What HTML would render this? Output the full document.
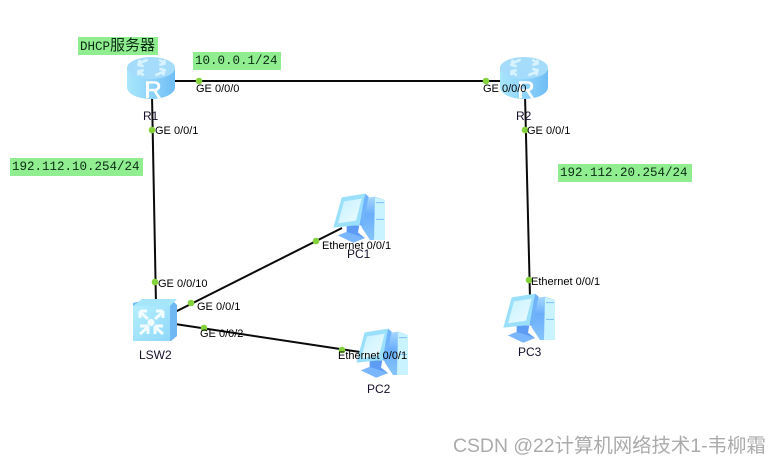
<!DOCTYPE html>
<html><head><meta charset="utf-8"><style>
html,body{margin:0;padding:0;background:#fff}
svg{display:block}
.p{font:11px "Liberation Sans",sans-serif;fill:#000}
.d{font:12px "Liberation Sans",sans-serif;fill:#18102a}
.m{font:12.5px "Liberation Mono","Noto Sans CJK SC",monospace;fill:#0c2a14}
</style></head><body>
<svg width="780" height="465" viewBox="0 0 780 465" xmlns="http://www.w3.org/2000/svg">
<defs>
<filter id="soft" x="-2%" y="-20%" width="104%" height="140%"><feGaussianBlur stdDeviation="0.35"/></filter>
<linearGradient id="rb" x1="0" x2="1" y1="0" y2="0"><stop offset="0" stop-color="#a8e6fb"/><stop offset=".5" stop-color="#8fd4fb"/><stop offset="1" stop-color="#6fbdf5"/></linearGradient>
<linearGradient id="sw" x1="0" x2="1" y1="0" y2="1"><stop offset="0" stop-color="#b5eefd"/><stop offset="1" stop-color="#8fd8fb"/></linearGradient>
<linearGradient id="tw" x1="0" x2="0" y1="0" y2="1"><stop offset="0" stop-color="#a8d8fd"/><stop offset=".4" stop-color="#6aaefb"/><stop offset="1" stop-color="#86c4fb"/></linearGradient>
<linearGradient id="scr" x1="0" x2="1" y1="0" y2="1"><stop offset="0" stop-color="#c6f1fd"/><stop offset="1" stop-color="#ecfbff"/></linearGradient>
<g id="router">
<path d="M0 11V30C0 37 11 42 24 42S48 37 48 30V11Z" fill="url(#rb)"/>
<ellipse cx="24" cy="11" rx="24" ry="11" fill="#a5dcfb"/>
<g fill="none" stroke="#d8f3ff" stroke-width="2" transform="translate(24.5,10.5) scale(1.3) translate(-24,-11)">
<path d="M14 8l7-3M15 5l-1 4 4 1M34 14l-7 3M33 17l1-4-4-1M30 5l4 3M30 9l4-1 0-3M18 17l-4-3M18 13l-4 1 0 3"/>
</g>
<text x="26" y="41" text-anchor="middle" font-family="Liberation Sans,sans-serif" font-size="24" fill="#fff" stroke="#fff" stroke-width=".6">R</text>
</g>
<g id="pc" transform="scale(.3333)">
<path d="M128 85L165 80 195 90V210H150L125 172Z" fill="url(#tw)"/>
<path d="M165 82L195 90V210H162Z" fill="#c9f3ff"/>
<path d="M168 98H192M168 148H192" stroke="#7cc0f5" stroke-width="3"/>
<path d="M135 71L146 80 128 170 118 165Z" fill="#6fb4fb"/>
<path d="M80 166H118L114 188 135 204 100 218 54 196 80 186Z" fill="#5d9bf5"/>
<path d="M80 186L100 192 135 204 100 218 54 196Z" fill="#79b6fb"/>
<path d="M65 82L135 71 118 165 40 173Z" fill="#9be0fb"/>
<path d="M72 94L125 86 108 152 54 160Z" fill="url(#scr)"/>
</g>
</defs>

<g stroke="#0a0a0a" stroke-width="2" fill="none">
<line x1="170" y1="81" x2="505" y2="81"/>
<line x1="152" y1="95" x2="156" y2="305"/>
<line x1="525" y1="95" x2="530" y2="298"/>
<line x1="175" y1="312" x2="342" y2="228"/>
<line x1="175" y1="324" x2="360" y2="352"/>
</g>

<use href="#router" x="127" y="57"/>
<use href="#router" x="500" y="57"/>

<g>
<path d="M137 302L171 299 177 305V336L171 341 133 341V303Z" fill="#6fb8f4"/>
<path d="M133 306L142 299H177L170 306Z" fill="#a6e6fb"/>
<rect x="133" y="306" width="37" height="35" fill="url(#sw)"/>
<g stroke="#f2fcff" stroke-width="3" fill="none">
<path d="M140 312l8 7M140 311v7M140 311h7M163 312l-8 7M163 311v7M163 311h-7M148 327l-8 7M148 326v8M148 326h-8M155 327l8 7M155 326v8M155 326h8"/>
</g>
<circle cx="151" cy="322.5" r="3.6" fill="#f2fcff"/>
</g>

<use href="#pc" transform="translate(320,170)"/>
<use href="#pc" transform="translate(343,305)"/>
<use href="#pc" transform="translate(490,270)"/>

<g fill="#84d23c">
<circle cx="199" cy="81" r="3.3"/><circle cx="486" cy="81" r="3.3"/>
<circle cx="152" cy="130" r="3.3"/><circle cx="525" cy="130" r="3.3"/>
<circle cx="155" cy="282" r="3.3"/><circle cx="529" cy="280" r="3.3"/>
<circle cx="191" cy="303" r="3.3"/><circle cx="316" cy="241" r="3.3"/>
<circle cx="204" cy="328" r="3.3"/><circle cx="342" cy="350" r="3.3"/>
</g>

<g fill="#90ee90">
<rect x="78" y="37" width="80" height="18"/>
<rect x="193" y="52" width="88" height="18"/>
<rect x="10" y="158" width="133" height="18"/>
<rect x="558" y="164" width="134" height="18"/>
</g>
<text class="m" x="80" y="50">DHCP<tspan font-size="15">服务器</tspan></text>
<text class="m" x="195" y="64">10.0.0.1/24</text>
<text class="m" x="12" y="170">192.112.10.254/24</text>
<text class="m" x="560" y="176">192.112.20.254/24</text>

<text class="p" x="196" y="92">GE 0/0/0</text>
<text class="p" x="483" y="92">GE 0/0/0</text>
<text class="p" x="155" y="134">GE 0/0/1</text>
<text class="p" x="527" y="134">GE 0/0/1</text>
<text class="p" x="158" y="287">GE 0/0/10</text>
<text class="p" x="197" y="310">GE 0/0/1</text>
<text class="p" x="200" y="337">GE 0/0/2</text>
<text class="p" x="322" y="249">Ethernet 0/0/1</text>
<text class="p" x="338" y="359">Ethernet 0/0/1</text>
<text class="p" x="531" y="285">Ethernet 0/0/1</text>

<text class="d" x="143" y="120">R1</text>
<text class="d" x="516" y="120">R2</text>
<text class="d" x="139" y="359">LSW2</text>
<text class="d" x="347" y="258">PC1</text>
<text class="d" x="367" y="393">PC2</text>
<text class="d" x="518" y="356">PC3</text>

<text x="453" y="452" font-family="Liberation Sans,Noto Sans CJK SC,sans-serif" font-size="19.4" fill="#ababab" filter="url(#soft)">CSDN @22计算机网络技术1-韦柳霜</text>
</svg>
</body></html>
